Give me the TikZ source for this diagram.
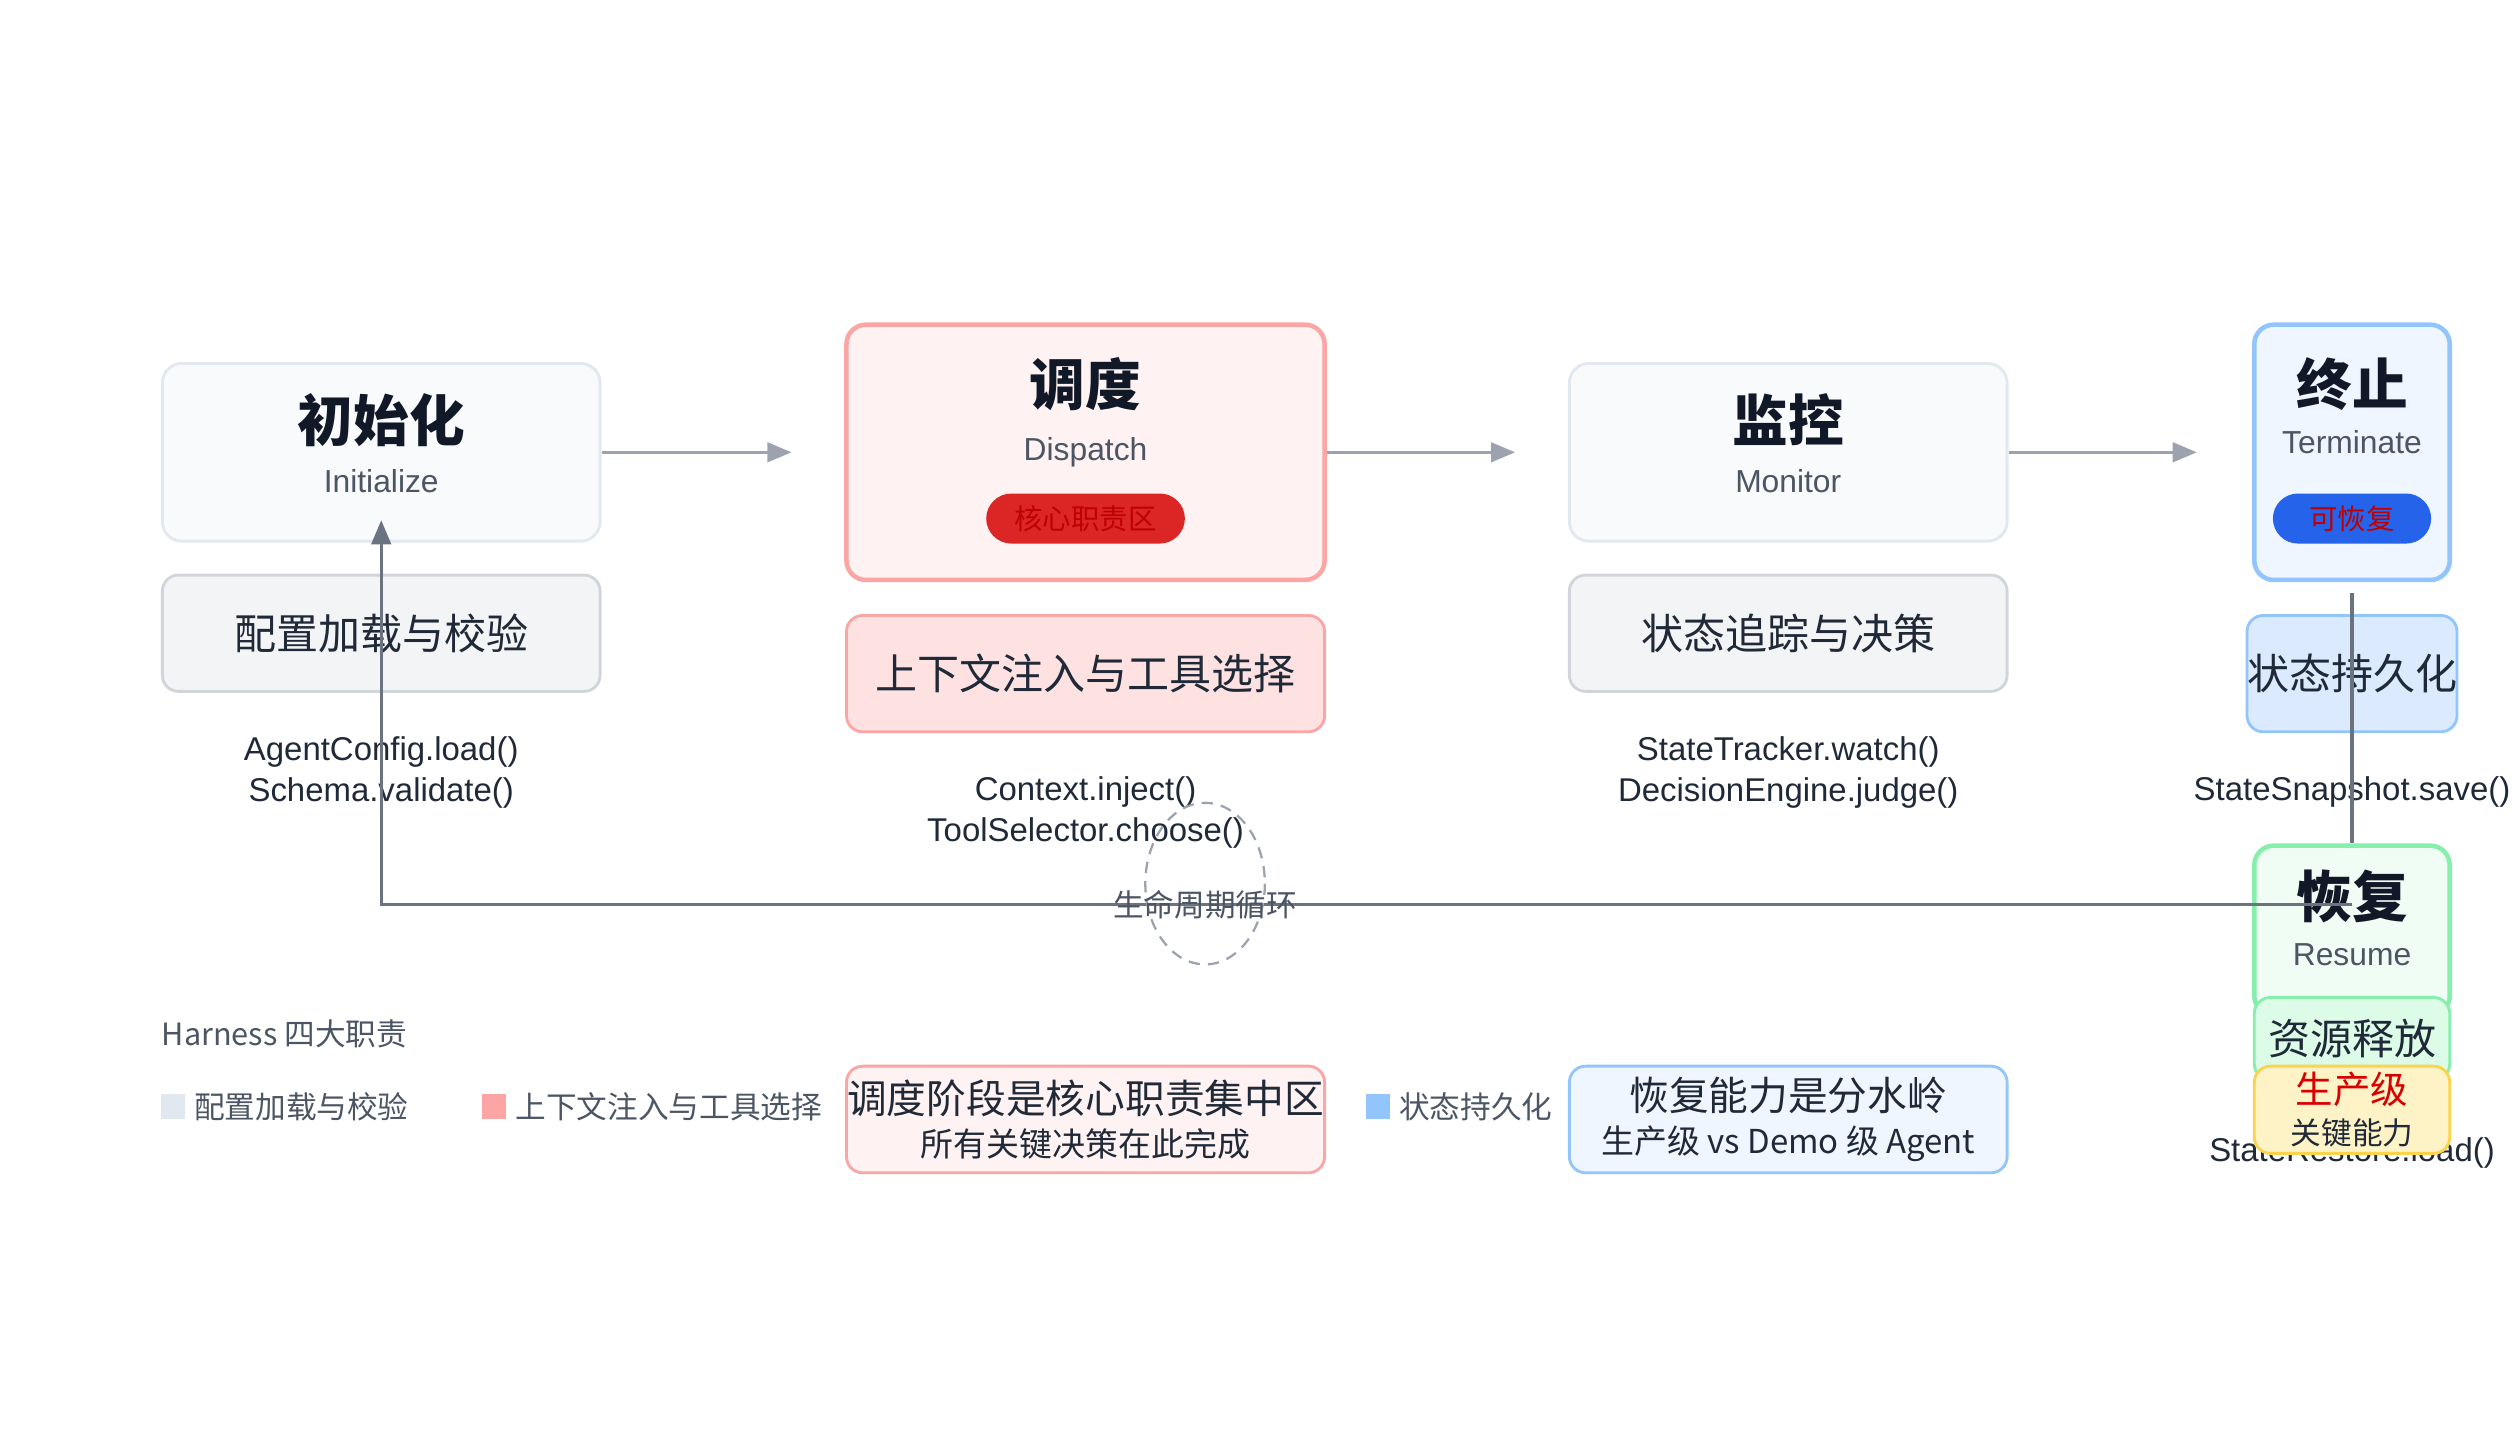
\documentclass[tikz,border=0pt]{standalone}
\usepackage{fontspec}
\setmainfont{Liberation Sans}
\newfontfamily\cjk{Noto Sans CJK SC}
\usetikzlibrary{arrows.meta,positioning}
\def\pu{0.05cm}
\definecolor{slatebg}{HTML}{F8FAFC}
\definecolor{slateln}{HTML}{E2E8F0}
\definecolor{greybg}{HTML}{F3F4F6}
\definecolor{greyln}{HTML}{D1D5DB}
\definecolor{redbg}{HTML}{FEF2F2}
\definecolor{redsub}{HTML}{FEE2E2}
\definecolor{redln}{HTML}{FCA5A5}
\definecolor{redpill}{HTML}{DC2626}
\definecolor{bluebg}{HTML}{EFF6FF}
\definecolor{bluesub}{HTML}{DBEAFE}
\definecolor{blueln}{HTML}{93C5FD}
\definecolor{bluepill}{HTML}{2563EB}
\definecolor{greenbg}{HTML}{F0FDF4}
\definecolor{greensub}{HTML}{DCFCE7}
\definecolor{greenln}{HTML}{86EFAC}
\definecolor{yellowbg}{HTML}{FEF3C7}
\definecolor{yellowln}{HTML}{FCD34D}
\definecolor{ink}{HTML}{111827}
\definecolor{body}{HTML}{1F2937}
\definecolor{muted}{HTML}{4B5563}
\definecolor{flow}{HTML}{9CA3AF}
\definecolor{loopgrey}{HTML}{6B7280}
\tikzset{
  stage/.style={draw, rectangle, rounded corners=0.6cm, line width=2.5pt, minimum width=271*\pu, minimum height=110*\pu},
  bigstage/.style={stage, line width=4pt, minimum width=296*\pu, minimum height=158*\pu},
  narrow/.style={stage, line width=4pt, minimum width=121*\pu, minimum height=158*\pu},
  duty/.style={draw, rectangle, rounded corners=0.5cm, line width=2.5pt, minimum width=271*\pu, minimum height=72*\pu, font=\cjk\fontsize{37}{44}\selectfont, text=body},
  title/.style={font=\cjk\bfseries\fontsize{49}{58}\selectfont, text=ink},
  sub/.style={font=\fontsize{28}{34}\selectfont, text=muted},
  code/.style={font=\fontsize{29}{36}\selectfont, text=body, align=center},
  pill/.style={rectangle, rounded corners=0.78cm, minimum height=31*\pu, font=\cjk\fontsize{25}{30}\selectfont, text=red!75!black},
  legend/.style={font=\cjk\fontsize{27}{32}\selectfont, text=muted, anchor=west},
  swatch/.style={rectangle, minimum size=15*\pu, inner sep=0pt},
  line/.style={draw, line width=3pt, flow, -{Triangle[length=0.75cm,width=0.6cm]}}
}
\begin{document}
\begin{tikzpicture}[x=\pu, y=-\pu]
\useasboundingbox (0,0) rectangle (1560,891);

% stages
\node [stage, fill=slatebg, draw=slateln] (init) at (236,280) {};
\node [title] (initT) at (236,260) {初始化};
\node [sub] (initS) at (236,298) {Initialize};
\node [duty, fill=greybg, draw=greyln] (initD) at (236,392) {配置加载与校验};
\node [code] (initC) at (236,478) {AgentConfig.load()\\Schema.validate()};

\node [bigstage, fill=redbg, draw=redln] (disp) at (672,280) {};
\node [title] (dispT) at (672,238) {调度};
\node [sub] (dispS) at (672,280) {Dispatch};
\node [pill, fill=redpill, minimum width=123*\pu] (dispP) at (672,321) {核心职责区};
\node [duty, fill=redsub, draw=redln, minimum width=296*\pu] (dispD) at (672,417) {上下文注入与工具选择};
\node [code] (dispC) at (672,503) {Context.inject()\\ToolSelector.choose()};

\node [stage, fill=slatebg, draw=slateln] (mon) at (1107,280) {};
\node [title] (monT) at (1107,260) {监控};
\node [sub] (monS) at (1107,298) {Monitor};
\node [duty, fill=greybg, draw=greyln] (monD) at (1107,392) {状态追踪与决策};
\node [code] (monC) at (1107,478) {StateTracker.watch()\\DecisionEngine.judge()};

\node [narrow, fill=bluebg, draw=blueln] (term) at (1456,280) {};
\node [title] (termT) at (1456,238) {终止};
\node [sub] (termS) at (1456,274) {Terminate};
\node [pill, fill=bluepill, minimum width=98*\pu] (termP) at (1456,321) {可恢复};
\node [duty, fill=bluesub, draw=blueln, minimum width=121*\pu, inner sep=0pt] (termD) at (1456,417) {状态持久化};
\node [code] (termC) at (1456,490) {StateSnapshot.save()};

% resume column
\node [code] (resC) at (1456,714) {StateRestore.load()};
\node [narrow, fill=greenbg, draw=greenln, minimum height=105*\pu] (res) at (1456,576) {};
\node [title] (resT) at (1456,555) {恢复};
\node [sub] (resS) at (1456,591) {Resume};
\node [duty, fill=greensub, draw=greenln, minimum width=121*\pu, minimum height=51*\pu, inner sep=0pt] (resD) at (1456,643) {资源释放};
\node [duty, fill=yellowbg, draw=yellowln, minimum width=121*\pu, minimum height=54*\pu, align=center, inner sep=0pt] (prod) at (1456,687) {\textcolor{red!85!black}{\fontsize{33}{36}\selectfont 生产级}\\[-8pt]{\fontsize{27}{30}\selectfont 关键能力}};

% flow
\path [line] (init.east) -- (490,280);
\path [line] (disp.east) -- (938,280);
\path [line] (mon.east) -- (1360,280);

% lifecycle loop
\coordinate (loopR) at (1456,560);
\coordinate (loopL) at (236,560);
\coordinate (loopTop) at (236,322);
\draw [draw=loopgrey, line width=3pt] (1456,367) -- (res.north);
\draw [draw=loopgrey, line width=3pt, -{Triangle[length=0.75cm,width=0.6cm]}] (loopR) -- (loopL) -- (loopTop);
\draw [flow, line width=2pt, dash pattern=on 0.35cm off 0.25cm] (746,547) ellipse [x radius=37, y radius=50];
\node [font=\cjk\fontsize{27}{32}\selectfont, text=muted] (loopN) at (746,560) {生命周期循环};

% legend
\node [legend, inner sep=0pt] (legT) at (100,640) {\fontsize{27}{32}\selectfont Harness {\cjk 四大职责}};
\node [swatch, fill=slateln] (sw1) at (107,685) {};
\node [legend, right=3*\pu of sw1] (lg1) {配置加载与校验};
\node [swatch, fill=redln] (sw2) at (306,685) {};
\node [legend, right=3*\pu of sw2] (lg2) {上下文注入与工具选择};
\node [swatch, fill=blueln] (sw3) at (853,685) {};
\node [legend, right=3*\pu of sw3] (lg3) {状态持久化};

\node [duty, fill=redbg, draw=redln, minimum width=296*\pu, minimum height=66*\pu, align=center, inner sep=0pt] (note1) at (672,693) {{\fontsize{35}{40}\selectfont 调度阶段是核心职责集中区}\\[-6pt]{\fontsize{29}{34}\selectfont 所有关键决策在此完成}};
\node [duty, fill=bluebg, draw=blueln, minimum height=66*\pu, align=center, inner sep=0pt] (note2) at (1107,693) {{\fontsize{35}{40}\selectfont 恢复能力是分水岭}\\[-6pt]{\fontsize{29}{34}\selectfont 生产级 vs Demo 级 Agent}};
\end{tikzpicture}
\end{document}
